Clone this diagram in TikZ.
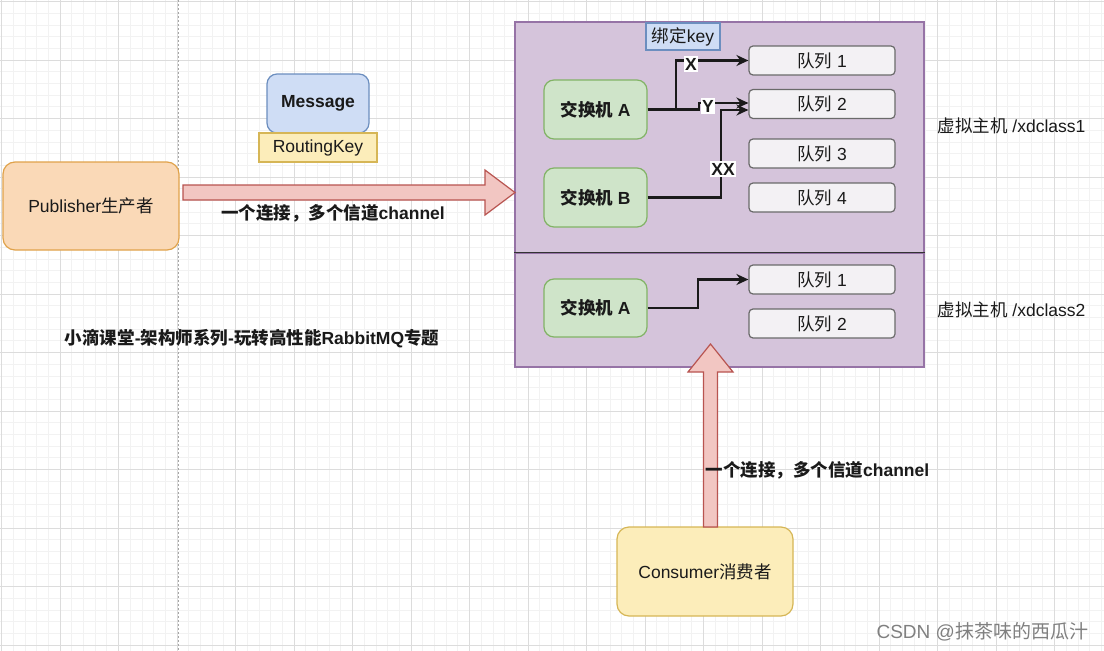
\documentclass[tikz,border=0pt]{standalone}
\usepackage{fontspec}
\setmainfont{Liberation Sans}
\newfontfamily\cjk{Noto Sans CJK SC}
\newcommand\zh[1]{{\cjk #1}}
\usetikzlibrary{arrows.meta}
\definecolor{gridminor}{HTML}{F2F2F2}
\definecolor{gridmajor}{HTML}{DCDCDC}
\definecolor{pubfill}{HTML}{FAD9B7}
\definecolor{pubdraw}{HTML}{E0A24A}
\definecolor{msgfill}{HTML}{CFDDF5}
\definecolor{msgdraw}{HTML}{6C8EBF}
\definecolor{yelfill}{HTML}{FCEDBA}
\definecolor{yeldraw}{HTML}{D6B656}
\definecolor{purfill}{HTML}{D5C4DB}
\definecolor{purdraw}{HTML}{9673A6}
\definecolor{grnfill}{HTML}{CFE4C9}
\definecolor{grndraw}{HTML}{82B366}
\definecolor{qfill}{HTML}{F3F1F4}
\definecolor{qdraw}{HTML}{6A6A6A}
\definecolor{arrfill}{HTML}{F2C6C2}
\definecolor{arrdraw}{HTML}{B85450}
\definecolor{txt}{HTML}{1A1A1A}
\tikzset{
  base/.style={font=\fontsize{17.5}{20}\selectfont, text=txt, inner sep=0pt, line width=1.2pt},
  boldtext/.style={font=\fontsize{17.5}{20}\selectfont\bfseries},
  pubbox/.style={base, draw=pubdraw, fill=pubfill, rounded corners=12pt, minimum width=176pt, minimum height=88pt},
  msgbox/.style={base, boldtext, draw=msgdraw, fill=msgfill, rounded corners=10pt, minimum width=102pt, minimum height=59pt},
  keybox/.style={base, draw=yeldraw, fill=yelfill, minimum width=118pt, minimum height=29pt},
  bindbox/.style={base, draw=msgdraw, fill=msgfill, minimum width=74pt, minimum height=27pt},
  exbox/.style={base, boldtext, draw=grndraw, fill=grnfill, rounded corners=10pt, minimum width=103pt, minimum height=59pt},
  qbox/.style={base, draw=qdraw, fill=qfill, rounded corners=4pt, minimum width=146pt, minimum height=29pt},
  consbox/.style={base, draw=yeldraw, fill=yelfill, rounded corners=12pt, minimum width=176pt, minimum height=89pt},
  edge/.style={line width=2.2pt, draw=txt, -{Stealth[length=12pt,width=11pt,inset=4pt]}},
  elabel/.style={base, boldtext, fill=white, inner sep=1.5pt},
  fat/.style={draw=arrdraw, fill=arrfill, line width=1.2pt, line join=miter},
}
\begin{document}
\begin{tikzpicture}[x=1pt,y=-1pt]
\useasboundingbox (0,0) rectangle (1104,651);
\fill[white] (0,0) rectangle (1104,651);
% grid
\foreach \i in {0,...,94} {\draw[gridminor, line width=0.7pt] (1.5+\i*11.7,0) -- (1.5+\i*11.7,651);}
\foreach \i in {0,...,55} {\draw[gridminor, line width=0.7pt] (0,1.5+\i*11.7) -- (1104,1.5+\i*11.7);}
\foreach \i in {0,...,18} {\draw[gridmajor, line width=0.8pt] (1.5+\i*58.5,0) -- (1.5+\i*58.5,651);}
\foreach \i in {0,...,11} {\draw[gridmajor, line width=0.8pt] (0,1.5+\i*58.5) -- (1104,1.5+\i*58.5);}
\draw[gray!70, line width=1pt, dash pattern=on 2pt off 2pt] (178,0) -- (178,651);

% containers
\node[base, draw=purdraw, fill=purfill, minimum width=409pt, minimum height=231pt] (vh1) at (719.5,137.5) {};
\node[base, draw=purdraw, fill=purfill, minimum width=409pt, minimum height=114pt] (vh2) at (719.5,310) {};
\draw[line width=1.5pt, draw=black!80] (vh2.north west) -- (vh2.north east);

% left side
\node[pubbox] (pub) at (91,206) {Publisher\zh{生产者}};
\node[msgbox] (msg) at (318,103.5) {Message};
\node[keybox] (rk) at (318,147.5) {RoutingKey};

% big horizontal arrow
\draw[fat] (183,185) -- (485,185) -- (485,170) -- (515,192.5) -- (485,215) -- (485,200) -- (183,200) -- cycle;
\node[base, boldtext] (ch1) at (333,213) {\zh{一个连接，多个信道}channel};

\node[base, boldtext] (title) at (252,339) {\zh{小滴课堂}-\zh{架构师系列}-\zh{玩转高性能}RabbitMQ\zh{专题}};

% vhost 1
\node[bindbox] (bind) at (683,36.5) {\zh{绑定}key};
\node[exbox] (xa) at (595.5,109.5) {\zh{交换机} A};
\node[exbox] (xb) at (595.5,197.5) {\zh{交换机} B};
\node[qbox] (q1) at (822,60.5) {\zh{队列} 1};
\node[qbox] (q2) at (822,104) {\zh{队列} 2};
\node[qbox] (q3) at (822,153.5) {\zh{队列} 3};
\node[qbox] (q4) at (822,197.5) {\zh{队列} 4};

\draw[edge] (xa.east) -- ++(28,0) |- (q1.west);
\draw[edge] (xa.east) -- ++(51,0) -- ++(0,-6.5) -- ([yshift=1pt]q2.west);
\draw[edge] (xb.east) -- ++(73,0) |- ([yshift=-6pt]q2.west);
\node[elabel] (lx) at (691,64) {X};
\node[elabel] (ly) at (708,106) {Y};
\node[elabel] (lxx) at (723,169) {XX};

% vhost 2
\node[exbox, minimum height=58pt] (xa2) at (595.5,308) {\zh{交换机} A};
\node[qbox] (b1) at (822,279.5) {\zh{队列} 1};
\node[qbox] (b2) at (822,323.5) {\zh{队列} 2};
\draw[edge] (xa2.east) -- ++(50,0) |- (b1.west);

\node[base, anchor=west] (v1) at (937,126) {\zh{虚拟主机} /xdclass1};
\node[base, anchor=west] (v2) at (937,310) {\zh{虚拟主机} /xdclass2};

% consumer and vertical arrow
\node[consbox] (cons) at (705,571.5) {Consumer\zh{消费者}};
\draw[fat] (703.5,527) -- (703.5,372) -- (688,372) -- (710.5,344) -- (733,372) -- (717.5,372) -- (717.5,527) -- cycle;
\node[base, boldtext, anchor=west] (ch2) at (705,470) {\zh{一个连接，多个信道}channel};

\node[base, anchor=west, text=black!50, font=\fontsize{19}{22}\selectfont] (wm) at (876,632) {CSDN @\zh{抹茶味的西瓜汁}};
\end{tikzpicture}
\end{document}
